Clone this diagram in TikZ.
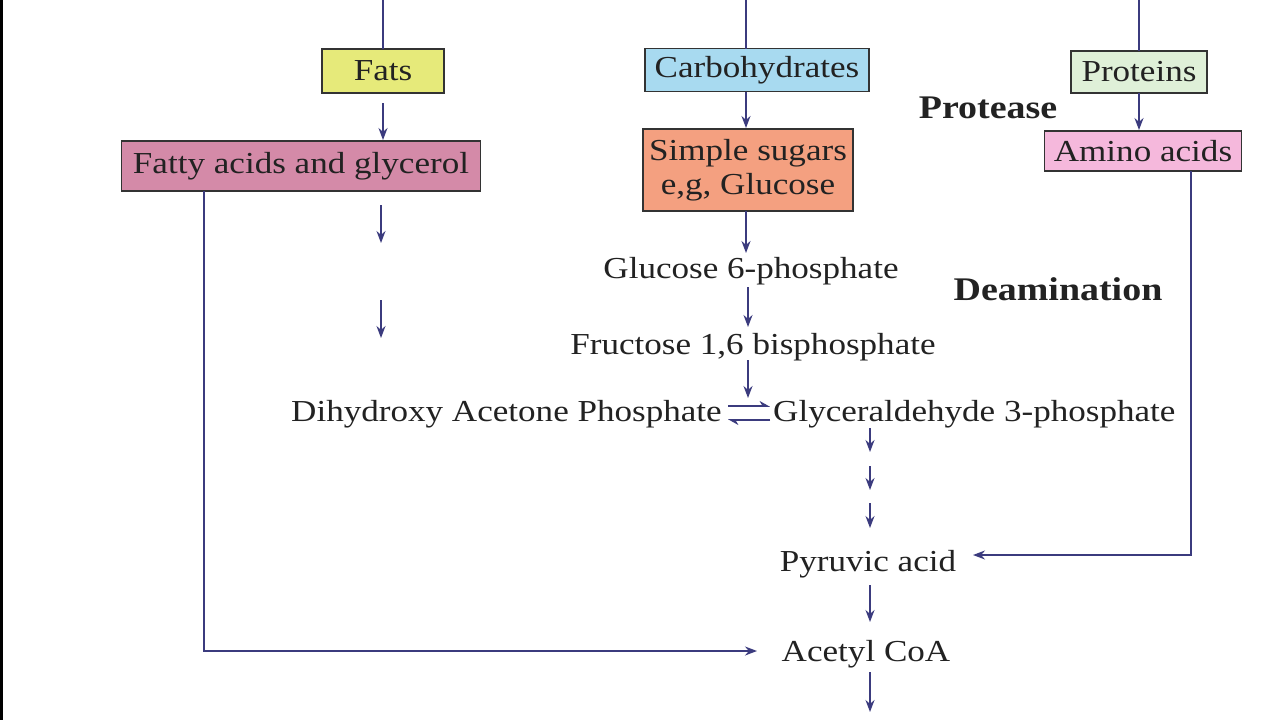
\documentclass[tikz,border=0pt]{standalone}
\usepackage{fontspec}
\setmainfont[FakeStretch=1.15]{Liberation Serif}
\usetikzlibrary{arrows.meta}
\definecolor{arr}{HTML}{3B3B7E}
\definecolor{txt}{HTML}{222222}
\begin{document}
\begin{tikzpicture}[x=1pt,y=-1pt,
  box/.style={draw=black!80,line width=1.2pt,inner sep=0pt,align=center,font=\fontsize{30.5}{34}\selectfont,text=txt},
  lbl/.style={font=\fontsize{30.5}{34}\selectfont,text=txt,inner sep=0pt},
  bld/.style={font=\fontsize{33}{36}\selectfont\bfseries,text=txt,inner sep=0pt},
  ar/.style={draw=arr,line width=1.4pt,-{Stealth[length=12pt,width=9pt]}},
  ln/.style={draw=arr,line width=1.4pt}]
\useasboundingbox (0,0) rectangle (1280,720);
\fill[white] (0,0) rectangle (1280,720);
\draw[black,line width=3pt] (1.5,0) -- (1.5,720);
% boxes
\node[box,fill={rgb,255:red,230;green,234;blue,122},minimum width=122pt,minimum height=44pt] (fats) at (383,71) {Fats};
\node[box,fill={rgb,255:red,168;green,218;blue,240},minimum width=224pt,minimum height=43pt] (carb) at (757,70) {Carbohydrates};
\node[box,fill={rgb,255:red,223;green,240;blue,216},minimum width=136pt,minimum height=42pt] (prot) at (1139,72) {Proteins};
\node[box,fill={rgb,255:red,245;green,184;blue,220},minimum width=197pt,minimum height=40pt] (amino) at (1143,151) {Amino acids};
\node[box,fill={rgb,255:red,212;green,138;blue,168},minimum width=359pt,minimum height=50pt] (fatty) at (301,166) {Fatty acids and glycerol};
\node[box,fill={rgb,255:red,244;green,160;blue,128},minimum width=210pt,minimum height=82pt] (sugar) at (748,170) {Simple sugars\\e,g, Glucose};
\node[bld] (protease) at (988,108) {Protease};
\node[bld] (deam) at (1058,289) {Deamination};
\node[lbl] (g6p) at (751,271) {Glucose 6-phosphate};
\node[lbl] (f16) at (753,347) {Fructose 1,6 bisphosphate};
\node[lbl,anchor=east] (dhap) at (722,414) {Dihydroxy Acetone Phosphate};
\node[lbl,anchor=west] (g3p) at (773,414) {Glyceraldehyde 3-phosphate};
\node[lbl] (pyr) at (868,564) {Pyruvic acid};
\node[lbl] (acoa) at (866,654) {Acetyl CoA};
% coordinates
\coordinate (t1) at (383,0); \coordinate (t2) at (746,0); \coordinate (t3) at (1139,0);
\draw[ln] (t1) -- (383,49);
\draw[ln] (t2) -- (746,49);
\draw[ln] (t3) -- (1139,51);
\draw[ar] (383,103) -- (383,140);
\draw[ar] (746,92) -- (746,128);
\draw[ar] (1139,93) -- (1139,130);
\coordinate (fa1) at (381,205); \coordinate (fa2) at (381,243);
\coordinate (fb1) at (381,300); \coordinate (fb2) at (381,338);
\draw[ar] (fa1) -- (fa2);
\draw[ar] (fb1) -- (fb2);
\draw[ar] (746,211) -- (746,253);
\draw[ar] (748,287) -- (748,327);
\draw[ar] (748,360) -- (748,398);
\draw[draw=arr,line width=2pt,-{Stealth[left,length=9pt,width=10pt]}] (728,406) -- (770,406);
\draw[draw=arr,line width=2pt,-{Stealth[left,length=9pt,width=10pt]}] (770,420) -- (728,420);
\foreach \a/\b in {428/452,466/490,503/528}{\draw[ar] (870,\a) -- (870,\b);}
\draw[ar] (1191,171) -- (1191,555) -- (973,555);
\draw[ar] (870,585) -- (870,622);
\draw[ar] (204,191) -- (204,651) -- (757,651);
\draw[ar] (870,672) -- (870,712);
\end{tikzpicture}
\end{document}
